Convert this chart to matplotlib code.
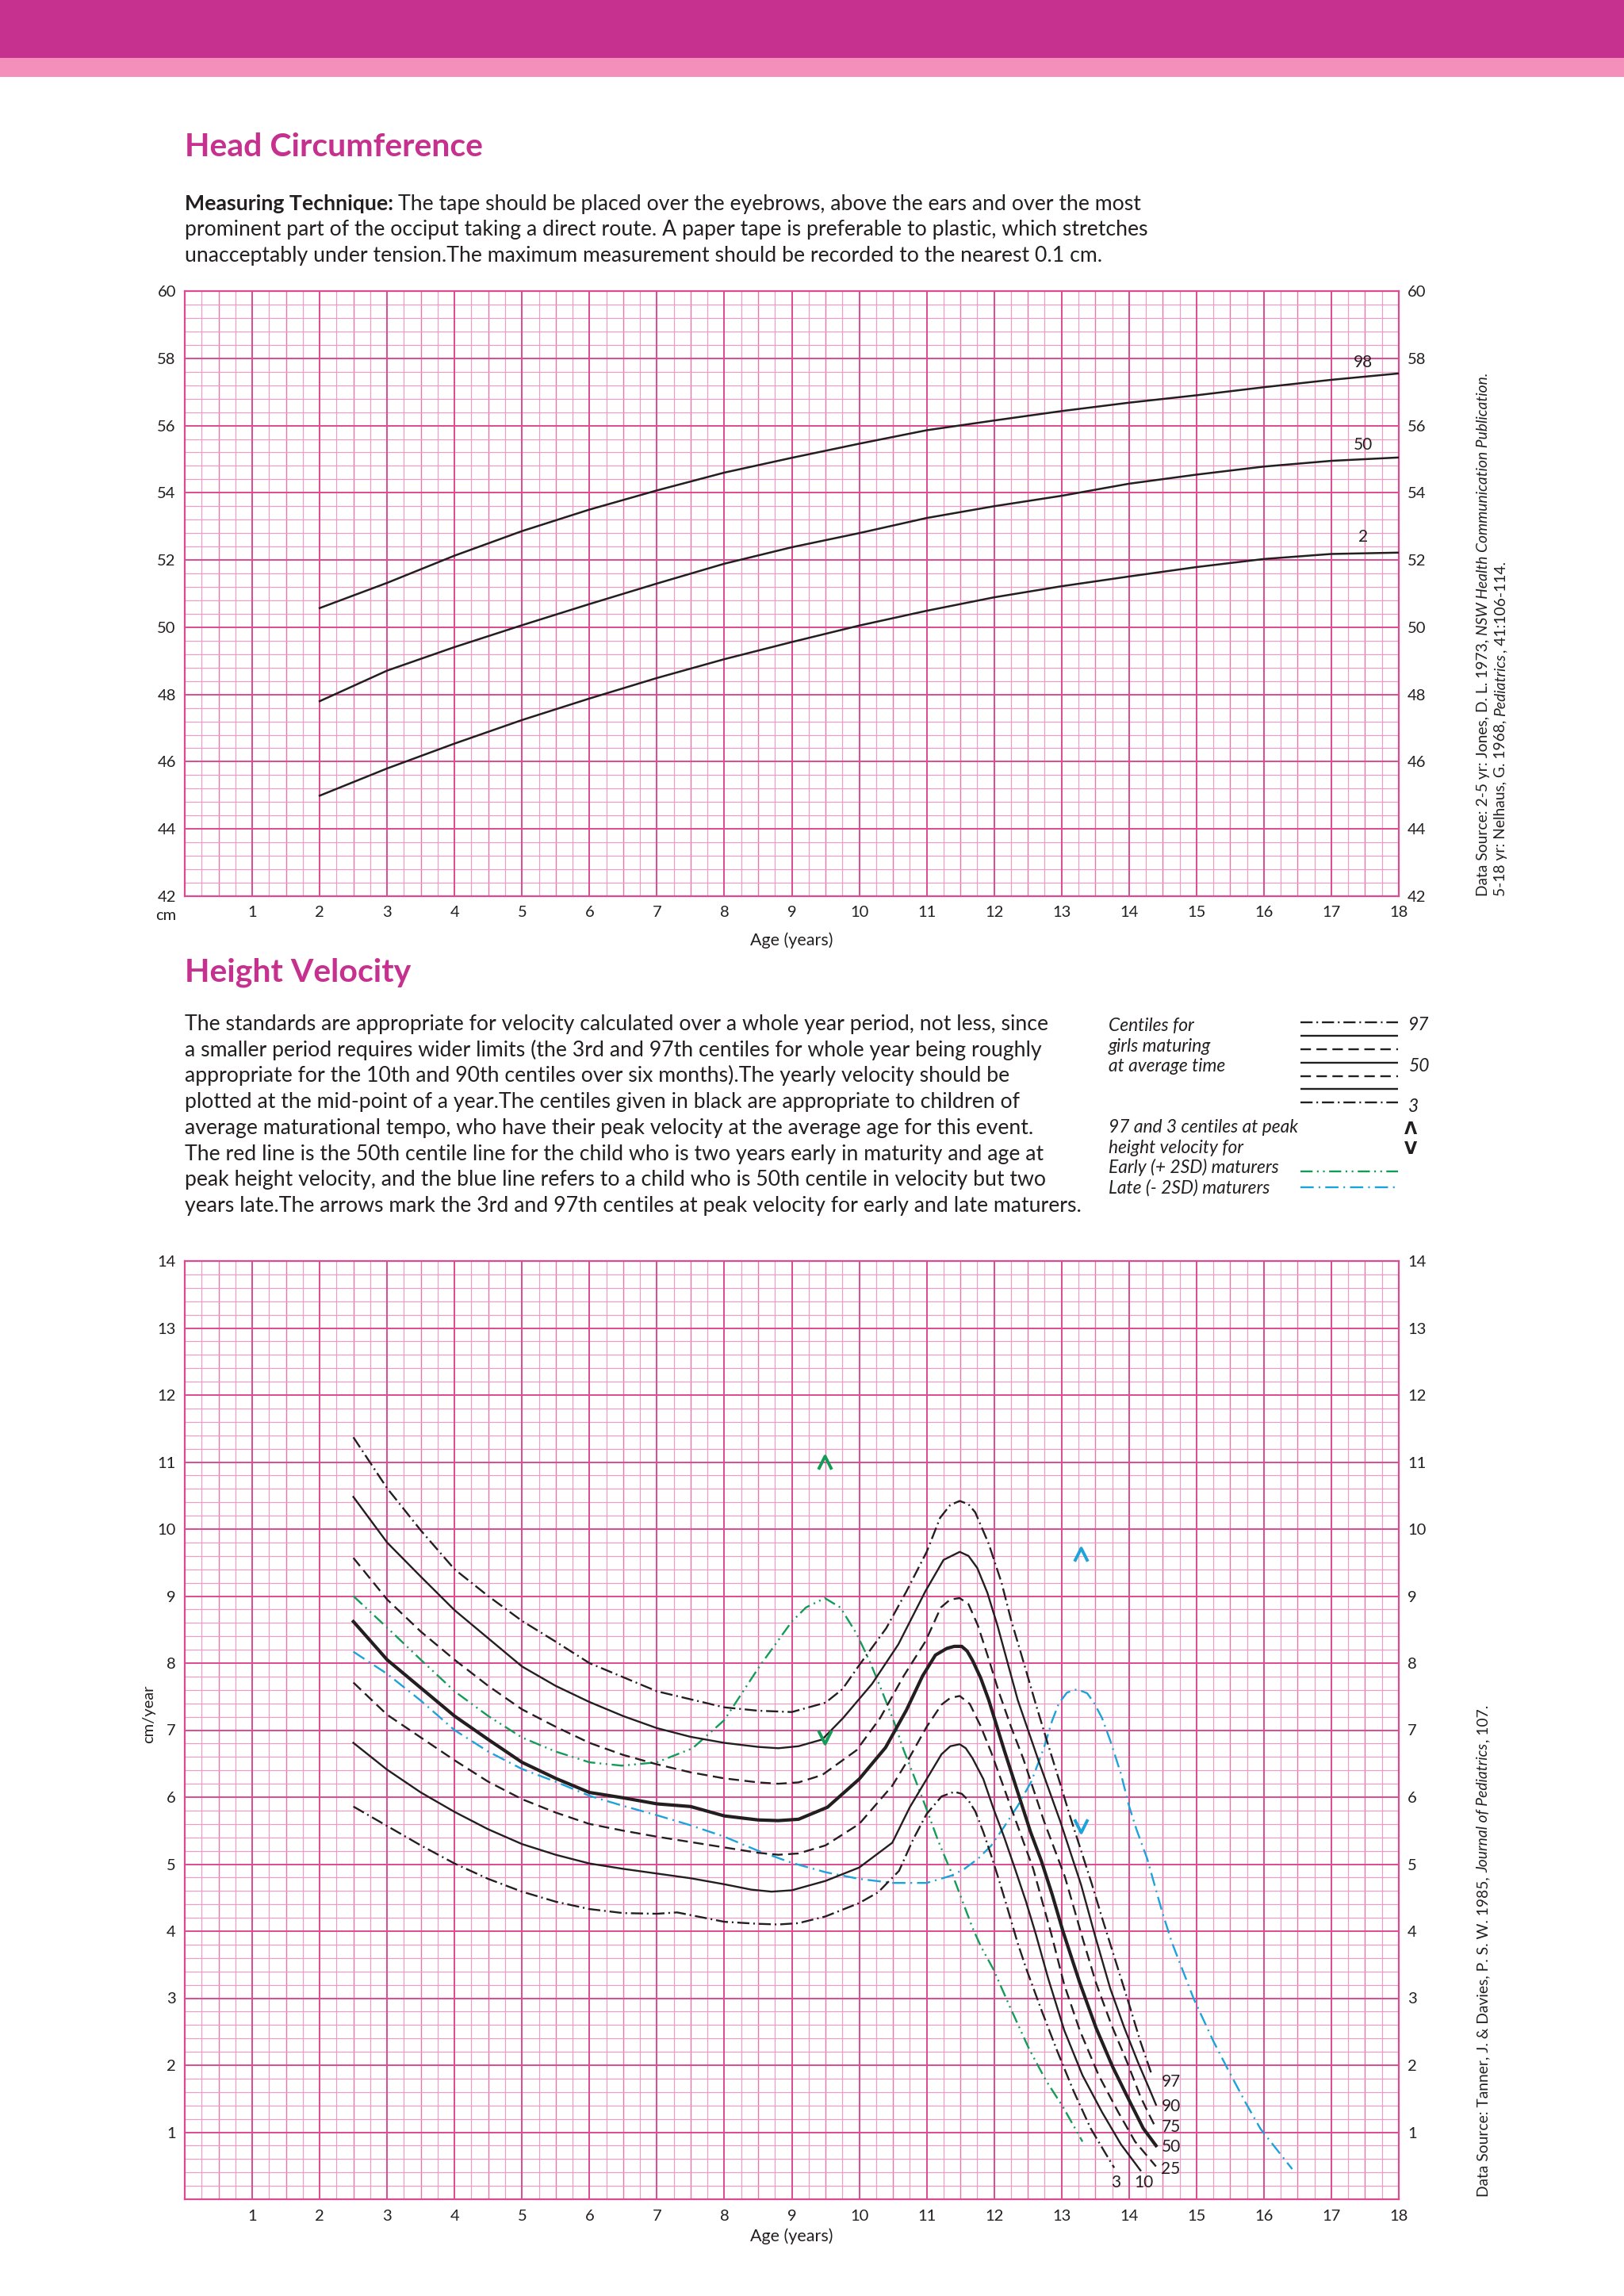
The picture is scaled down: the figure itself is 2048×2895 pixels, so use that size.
#!/usr/bin/env python3
#=========================================================================#
# Head circumference and height velocity chart (girls)                    #
#=========================================================================#
import numpy as np
import matplotlib
matplotlib.use('Agg')
import matplotlib.pyplot as plt
from matplotlib.lines import Line2D
from matplotlib.patches import Rectangle
#-------------------------------------------------------------------------#
# Plot settings                                                           #
#-------------------------------------------------------------------------#
plt.rcParams['font.family'] = ['Lato', 'DejaVu Sans']
plt.rcParams['lines.scale_dashes'] = False
W, H = 2048, 2895
INK = '#231f20'
MAGENTA = '#c6308e'
LIGHT_PINK = '#f48fbb'
GRID_MAJ = '#de4a92'
GRID_MID = '#e577ad'
GRID_MIN = '#f09bc2'
GREEN = '#129c58'
BLUE = '#1ca3da'
BODY = 19.2
KEY = 16.4
#=========================================================================#
# Data                                                                    #
#=========================================================================#
#-------------------------------------------------------------------------#
# Head circumference (cm)                                                 #
#-------------------------------------------------------------------------#
head_age = [2, 3, 4, 5, 6, 7, 8, 9, 10, 11, 12, 13, 14, 15, 16, 17, 18]
head_98 = [50.57, 51.32, 52.13, 52.86, 53.50, 54.07, 54.60, 55.04, 55.46,
           55.86, 56.15, 56.43, 56.68, 56.90, 57.14, 57.36, 57.55]
head_50 = [47.80, 48.71, 49.41, 50.06, 50.69, 51.30, 51.89, 52.38, 52.80,
           53.25, 53.60, 53.91, 54.27, 54.54, 54.78, 54.95, 55.05]
head_2 = [44.99, 45.80, 46.54, 47.24, 47.88, 48.49, 49.05, 49.56, 50.05,
          50.49, 50.89, 51.22, 51.51, 51.79, 52.03, 52.18, 52.22]
head_labels = ['98', '50', '2']
head_label_v = [57.88, 55.42, 52.69]
#-------------------------------------------------------------------------#
# Height velocity (cm/year)                                               #
#-------------------------------------------------------------------------#
age_97 = [2.5, 3.0, 3.5, 4.0, 4.5, 5.0, 5.5, 6.0, 6.5, 7.0, 7.5, 8.0, 8.5,
          9.0, 9.5, 9.75, 10.0, 10.4, 10.7, 11.0, 11.2, 11.35, 11.49, 11.62,
          11.72, 11.92, 12.11, 12.25, 12.47, 12.62, 12.78, 12.98, 13.13,
          13.29, 13.45, 13.6, 13.74, 13.88, 14.01, 14.17, 14.34]
vel_97 = [11.37, 10.61, 9.98, 9.40, 9.0, 8.63, 8.32, 8.0, 7.79, 7.58, 7.46,
          7.34, 7.29, 7.27, 7.41, 7.61, 7.97, 8.52, 9.07, 9.66, 10.17, 10.36,
          10.42, 10.37, 10.25, 9.78, 9.2, 8.65, 7.9, 7.38, 6.85, 6.2, 5.7,
          5.2, 4.7, 4.2, 3.75, 3.3, 2.88, 2.35, 1.85]

age_90 = [2.5, 3.0, 3.5, 4.0, 4.5, 5.0, 5.5, 6.0, 6.5, 7.0, 7.5, 8.0, 8.5,
          8.8, 9.1, 9.45, 9.76, 10.19, 10.58, 10.98, 11.25, 11.49, 11.62,
          11.75, 11.9, 12.05, 12.35, 12.66, 12.98, 13.29, 13.5, 13.72, 13.93,
          14.13, 14.3, 14.4]
vel_90 = [10.48, 9.80, 9.29, 8.79, 8.37, 7.95, 7.66, 7.42, 7.21, 7.03, 6.90,
          6.81, 6.75, 6.73, 6.76, 6.86, 7.18, 7.69, 8.28, 9.07, 9.54, 9.66,
          9.6, 9.42, 9.05, 8.56, 7.45, 6.54, 5.64, 4.69, 3.92, 3.15, 2.56,
          2.05, 1.65, 1.41]

age_75 = [2.5, 3.0, 3.5, 4.0, 4.5, 5.0, 5.5, 6.0, 6.5, 7.0, 7.5, 8.0, 8.5,
          8.8, 9.1, 9.45, 9.96, 10.31, 10.66, 10.98, 11.21, 11.35, 11.49,
          11.62, 11.76, 11.92, 12.07, 12.25, 12.43, 12.74, 13.05, 13.31,
          13.51, 13.74, 13.97, 14.17, 14.3, 14.38]
vel_75 = [9.57, 8.95, 8.47, 8.05, 7.66, 7.31, 7.05, 6.81, 6.63, 6.49, 6.37,
          6.28, 6.22, 6.20, 6.22, 6.33, 6.70, 7.18, 7.81, 8.32, 8.83, 8.95,
          8.97, 8.88, 8.56, 8.06, 7.57, 7.05, 6.58, 5.64, 4.81, 3.90, 3.23,
          2.6, 2.05, 1.53, 1.26, 1.10]

age_50 = [2.5, 3.0, 3.5, 4.0, 4.5, 5.0, 5.5, 6.0, 6.5, 7.0, 7.5, 8.0, 8.5,
          8.8, 9.1, 9.53, 10.0, 10.39, 10.7, 10.94, 11.13, 11.3, 11.41, 11.52,
          11.6, 11.68, 11.8, 11.92, 12.15, 12.39, 12.54, 12.70, 12.86, 13.02,
          13.27, 13.51, 13.76, 14.01, 14.21, 14.4]
vel_50 = [8.62, 8.05, 7.63, 7.21, 6.86, 6.52, 6.28, 6.07, 5.99, 5.90, 5.86,
          5.72, 5.66, 5.65, 5.67, 5.85, 6.27, 6.74, 7.30, 7.81, 8.12, 8.22,
          8.25, 8.25, 8.18, 8.04, 7.78, 7.45, 6.70, 5.95, 5.48, 5.05, 4.55,
          4.0, 3.23, 2.56, 1.97, 1.46, 1.06, 0.80]

age_25 = [2.5, 3.0, 3.5, 4.0, 4.5, 5.0, 5.5, 6.0, 6.5, 7.0, 7.5, 8.0, 8.5,
          8.8, 9.1, 9.5, 10.0, 10.49, 10.75, 11.0, 11.22, 11.35, 11.49,
          11.64, 11.80, 11.96, 12.27, 12.58, 12.85, 13.04, 13.27, 13.55,
          13.84, 14.09, 14.4]
vel_25 = [7.71, 7.23, 6.89, 6.55, 6.23, 5.97, 5.77, 5.60, 5.50, 5.41, 5.33,
          5.25, 5.17, 5.14, 5.16, 5.28, 5.60, 6.17, 6.60, 7.05, 7.38, 7.48,
          7.51, 7.39, 7.06, 6.66, 5.79, 4.93, 3.95, 3.2, 2.52, 1.85, 1.30,
          0.86, 0.49]

age_10 = [2.5, 3.0, 3.5, 4.0, 4.5, 5.0, 5.5, 6.0, 6.5, 7.0, 7.5, 8.0, 8.4,
          8.7, 9.0, 9.5, 10.0, 10.49, 10.75, 11.0, 11.22, 11.35, 11.49, 11.58,
          11.68, 11.84, 11.99, 12.15, 12.31, 12.47, 12.62, 12.8, 13.04, 13.31,
          13.6, 13.88, 14.17]
vel_10 = [6.81, 6.41, 6.07, 5.78, 5.52, 5.30, 5.14, 5.01, 4.93, 4.86, 4.79,
          4.70, 4.62, 4.59, 4.61, 4.75, 4.95, 5.32, 5.85, 6.27, 6.64, 6.76,
          6.79, 6.73, 6.58, 6.27, 5.83, 5.40, 4.93, 4.45, 3.95, 3.3, 2.52,
          1.85, 1.30, 0.82, 0.43]

age_3 = [2.5, 3.0, 3.5, 4.0, 4.5, 5.0, 5.5, 6.0, 6.5, 7.0, 7.3, 7.6, 8.0,
         8.5, 8.8, 9.1, 9.5, 10.0, 10.28, 10.59, 10.8, 11.0, 11.22, 11.41,
         11.52, 11.62, 11.72, 11.84, 11.96, 12.07, 12.19, 12.35, 12.48, 12.71,
         12.94, 13.18, 13.43, 13.66, 13.78]
vel_3 = [5.86, 5.57, 5.28, 5.01, 4.78, 4.59, 4.44, 4.33, 4.27, 4.26, 4.28,
         4.22, 4.14, 4.11, 4.10, 4.12, 4.22, 4.42, 4.58, 4.90, 5.37, 5.75,
         6.01, 6.08, 6.05, 5.95, 5.79, 5.48, 5.12, 4.77, 4.37, 3.82, 3.43,
         2.80, 2.2, 1.61, 1.06, 0.67, 0.47]

age_early = [2.5, 3.0, 3.5, 4.0, 4.5, 5.0, 5.5, 6.0, 6.48, 7.0, 7.53, 8.0,
             8.52, 9.0, 9.21, 9.49, 9.72, 9.96, 10.15, 10.31, 10.51, 10.66,
             10.82, 10.98, 11.17, 11.41, 11.53, 11.68, 11.8, 11.99, 12.23,
             12.52, 12.77, 13.02, 13.31]
vel_early = [9.0, 8.53, 8.05, 7.58, 7.21, 6.89, 6.68, 6.52, 6.47, 6.52, 6.73,
             7.15, 7.95, 8.62, 8.83, 8.97, 8.83, 8.44, 8.04, 7.65, 7.14, 6.70,
             6.29, 5.87, 5.35, 4.77, 4.45, 4.05, 3.78, 3.43, 2.88, 2.24, 1.77,
             1.38, 0.86]

age_late = [2.5, 3.0, 3.5, 4.0, 4.5, 5.0, 5.5, 6.0, 6.5, 7.0, 7.5, 8.0, 8.5,
            9.0, 9.5, 10.0, 10.5, 11.0, 11.37, 11.56, 11.76, 11.96, 12.15,
            12.35, 12.55, 12.74, 12.86, 12.96, 13.08, 13.23, 13.38, 13.48,
            13.6, 13.72, 13.88, 14.0, 14.11, 14.27, 14.39, 14.5, 14.64, 14.96,
            15.25, 15.47, 15.74, 15.95, 16.42]
vel_late = [8.17, 7.84, 7.44, 7.0, 6.68, 6.42, 6.23, 6.02, 5.87, 5.73, 5.58,
            5.41, 5.2, 5.02, 4.88, 4.78, 4.72, 4.72, 4.83, 4.93, 5.08, 5.28,
            5.56, 5.87, 6.23, 6.74, 7.14, 7.40, 7.56, 7.61, 7.55, 7.41, 7.18,
            6.85, 6.35, 5.87, 5.52, 5.08, 4.65, 4.26, 3.82, 2.99, 2.36, 1.93,
            1.42, 1.05, 0.45]

# 97th / 3rd centile at peak velocity for early and late maturers
early_peak_age = [9.49, 9.49]
early_peak_vel = [11.0, 6.9]
late_peak_age = [13.28, 13.28]
late_peak_vel = [9.62, 5.57]

vel_labels = ['97', '90', '75', '50', '25']
vel_label_vel = [1.75, 1.38, 1.08, 0.78, 0.45]
#=========================================================================#
# Helpers                                                                 #
#=========================================================================#
def fx(x):
    return x / W

def fy(y):
    return 1.0 - y / H

def paper(ax, y0, y1, ymaj, ymin):
    ax.set_xlim(0, 18)
    ax.set_ylim(y0, y1)
    # minor, half and major lines
    for x in np.arange(0, 18.001, 0.25):
        q = round(x * 4) % 4
        if q == 0:
            continue
        c, lw = (GRID_MID, 1.0) if q == 2 else (GRID_MIN, 0.85)
        ax.axvline(x, color=c, lw=lw, zorder=1)
    for y in np.arange(y0, y1 + 1e-6, ymin):
        if abs((y - y0) / ymaj - round((y - y0) / ymaj)) < 1e-6:
            continue
        ax.axhline(y, color=GRID_MIN, lw=0.85, zorder=1)
    for x in range(0, 19):
        ax.axvline(x, color=GRID_MAJ, lw=1.4, zorder=2)
    for y in np.arange(y0, y1 + 1e-6, ymaj):
        ax.axhline(y, color=GRID_MAJ, lw=1.4, zorder=2)
    for s in ax.spines.values():
        s.set_color(GRID_MAJ)
        s.set_linewidth(1.6)
    ax.set_xticks(range(1, 19))
    ax.tick_params(axis='both', length=0, labelsize=14.5, colors=INK)
    ax.tick_params(axis='x', pad=9)
    ax.tick_params(axis='y', pad=8, labelright=True)

def runs(x, y, parts, size, rotate=False):
    rend = fig.canvas.get_renderer()
    pos = y if rotate else x
    for txt, weight, style, gap in parts:
        if rotate:
            t = fig.text(fx(x), fy(pos), txt, rotation=90,
                         rotation_mode='anchor', ha='left', va='baseline',
                         fontsize=size, fontweight=weight, fontstyle=style,
                         color=INK)
            pos -= t.get_window_extent(rend).height + gap
        else:
            t = fig.text(fx(pos), fy(y), txt, ha='left', va='baseline',
                         fontsize=size, fontweight=weight, fontstyle=style,
                         color=INK)
            pos += t.get_window_extent(rend).width + gap

def leg_line(x0, x1, y, color, ls, lw=1.7):
    fig.add_artist(Line2D([fx(x0), fx(x1)], [fy(y), fy(y)],
                          transform=fig.transFigure, color=color, lw=lw,
                          linestyle=ls, solid_capstyle='butt',
                          dash_capstyle='butt'))
#=========================================================================#
# Main                                                                    #
#=========================================================================#
DASH = (0, (9.5, 5))
DDOT = (0, (11, 3.5, 1.5, 3.5))
EARLY = (0, (11, 4, 1.5, 4, 1.5, 4))
LATE = (0, (12, 4.5, 1.5, 4.5))

fig = plt.figure(figsize=(W / 100, H / 100), dpi=100)
fig.patch.set_facecolor('white')
#-------------------------------------------------------------------------#
# Header bands                                                            #
#-------------------------------------------------------------------------#
fig.add_artist(Rectangle((0, fy(73)), 1, 73 / H, transform=fig.transFigure,
                         color=MAGENTA, lw=0))
fig.add_artist(Rectangle((0, fy(97)), 1, 24 / H, transform=fig.transFigure,
                         color=LIGHT_PINK, lw=0))
#-------------------------------------------------------------------------#
# Head circumference                                                      #
#-------------------------------------------------------------------------#
fig.text(fx(233), fy(197), 'Head Circumference', fontsize=29.5,
         fontweight='bold', color=MAGENTA, va='baseline')
runs(233, 265, [('Measuring Technique:', 'bold', 'normal', 6),
                ('The tape should be placed over the eyebrows, above the ears '
                 'and over the most', 'normal', 'normal', 0)], BODY)
fig.text(fx(233), fy(297.5), 'prominent part of the occiput taking a direct '
         'route. A paper tape is preferable to plastic, which stretches',
         fontsize=BODY, color=INK, va='baseline')
fig.text(fx(233), fy(330), 'unacceptably under tension.The maximum measurement '
         'should be recorded to the nearest 0.1 cm.',
         fontsize=BODY, color=INK, va='baseline')

ax1 = fig.add_axes([fx(233), fy(1130), (1764 - 233) / W, (1130 - 367) / H])
paper(ax1, 42, 60, 2, 0.4)
ax1.set_yticks(np.arange(42, 61, 2))
for vals in [head_98, head_50, head_2]:
    ax1.plot(head_age, vals, color=INK, lw=1.8, zorder=5)
for lab, yv in zip(head_labels, head_label_v):
    ax1.text(17.47, yv, lab, fontsize=15, color=INK,
             ha='center', va='center', zorder=6)
fig.text(fx(209), fy(1154), 'cm', fontsize=14.5, color=INK, ha='center',
         va='center')
fig.text(fx(998), fy(1186), 'Age (years)', fontsize=15.5, color=INK,
         ha='center', va='center')
runs(1876, 1130, [('Data Source: 2-5 yr: Jones, D. L. 1973,', 'normal',
                   'normal', 5),
                  ('NSW Health Communication Publication.', 'normal',
                   'italic', 0)], 13.9, rotate=True)
runs(1898, 1130, [('5-18 yr: Nelhaus, G. 1968,', 'normal', 'normal', 5),
                  ('Pediatrics', 'normal', 'italic', 1),
                  (', 41:106-114.', 'normal', 'normal', 0)], 13.9, rotate=True)
#-------------------------------------------------------------------------#
# Height velocity text                                                    #
#-------------------------------------------------------------------------#
fig.text(fx(233), fy(1237), 'Height Velocity', fontsize=29.5,
         fontweight='bold', color=MAGENTA, va='baseline')
para = ['The standards are appropriate for velocity calculated over a whole '
        'year period, not less, since',
        'a smaller period requires wider limits (the 3rd and 97th centiles '
        'for whole year being roughly',
        'appropriate for the 10th and 90th centiles over six months).The '
        'yearly velocity should be',
        'plotted at the mid-point of a year.The centiles given in black are '
        'appropriate to children of',
        'average maturational tempo, who have their peak velocity at the '
        'average age for this event.',
        'The red line is the 50th centile line for the child who is two years '
        'early in maturity and age at',
        'peak height velocity, and the blue line refers to a child who is '
        '50th centile in velocity but two',
        'years late.The arrows mark the 3rd and 97th centiles at peak '
        'velocity for early and late maturers.']
for i, line in enumerate(para):
    fig.text(fx(233), fy(1299 + i * 32.7), line, fontsize=BODY, color=INK,
             va='baseline')
#-------------------------------------------------------------------------#
# Key                                                                     #
#-------------------------------------------------------------------------#
for i, line in enumerate(['Centiles for', 'girls maturing',
                          'at average time']):
    fig.text(fx(1398), fy(1300 + i * 25.5), line, fontsize=KEY,
             fontstyle='italic', color=INK, va='baseline')
for i, line in enumerate(['97 and 3 centiles at peak', 'height velocity for',
                          'Early (+ 2SD) maturers', 'Late (- 2SD) maturers']):
    fig.text(fx(1398), fy(1428 + i * 25.5), line, fontsize=KEY,
             fontstyle='italic', color=INK, va='baseline')
key_styles = [DDOT, '-', DASH, '-', DASH, '-', DDOT]
for i, ls in enumerate(key_styles):
    leg_line(1640, 1763, 1289 + i * 16.9, INK, ls)
for lab, yy in [('97', 1299), ('50', 1351), ('3', 1402)]:
    fig.text(fx(1776), fy(yy), lab, fontsize=KEY, fontstyle='italic',
             color=INK, va='baseline')
fig.text(fx(1779), fy(1430), 'Λ', family='DejaVu Sans', fontsize=15,
         fontweight='bold', color=INK, ha='center', va='baseline')
fig.text(fx(1779), fy(1455), 'V', family='DejaVu Sans', fontsize=15,
         fontweight='bold', color=INK, ha='center', va='baseline')
leg_line(1640, 1763, 1477, GREEN, EARLY)
leg_line(1640, 1763, 1497, BLUE, LATE)
#-------------------------------------------------------------------------#
# Height velocity chart                                                   #
#-------------------------------------------------------------------------#
ax2 = fig.add_axes([fx(233), fy(2773), (1764 - 233) / W, (2773 - 1590) / H])
paper(ax2, 0, 14, 1, 0.2)
ax2.set_yticks(range(1, 15))
curves = [(age_97, vel_97, DDOT, 1.7), (age_90, vel_90, '-', 1.7),
          (age_75, vel_75, DASH, 1.7), (age_50, vel_50, '-', 3.0),
          (age_25, vel_25, DASH, 1.7), (age_10, vel_10, '-', 1.7),
          (age_3, vel_3, DDOT, 1.7)]
for a, v, ls, lw in curves:
    ax2.plot(a, v, color=INK, lw=lw, linestyle=ls, zorder=5,
             dash_capstyle='butt')
ax2.plot(age_early, vel_early, color=GREEN, lw=1.7, linestyle=EARLY,
         zorder=4)
ax2.plot(age_late, vel_late, color=BLUE, lw=1.7, linestyle=LATE, zorder=4)
up = [(-1, -1), (0, 1), (1, -1)]
down = [(-1, 1), (0, -1), (1, 1)]
for a, v, col in [(early_peak_age, early_peak_vel, GREEN),
                  (late_peak_age, late_peak_vel, BLUE)]:
    ax2.plot(a[0], v[0], marker=up, ms=12, mew=2.8, mfc='none', mec=col,
             ls='none', zorder=6)
    ax2.plot(a[1], v[1], marker=down, ms=12, mew=2.8, mfc='none', mec=col,
             ls='none', zorder=6)
for lab, yv in zip(vel_labels, vel_label_vel):
    ax2.text(14.62, yv, lab, fontsize=15, color=INK, ha='center',
             va='center', zorder=6)
ax2.text(13.81, 0.25, '3', fontsize=15, color=INK, ha='center',
         va='center', zorder=6)
ax2.text(14.22, 0.25, '10', fontsize=15, color=INK, ha='center',
         va='center', zorder=6)
fig.text(fx(188), fy(2161), 'cm/year', fontsize=14.5, color=INK, rotation=90,
         ha='center', va='center')
fig.text(fx(998), fy(2820), 'Age (years)', fontsize=15.5, color=INK,
         ha='center', va='center')
runs(1876, 2770, [('Data Source: Tanner, J. & Davies, P. S. W. 1985,',
                   'normal', 'normal', 5),
                  ('Journal of Pediatrics', 'normal', 'italic', 1),
                  (', 107.', 'normal', 'normal', 0)], 13.9, rotate=True)

fig.savefig('out.png', dpi=100, facecolor='white')
